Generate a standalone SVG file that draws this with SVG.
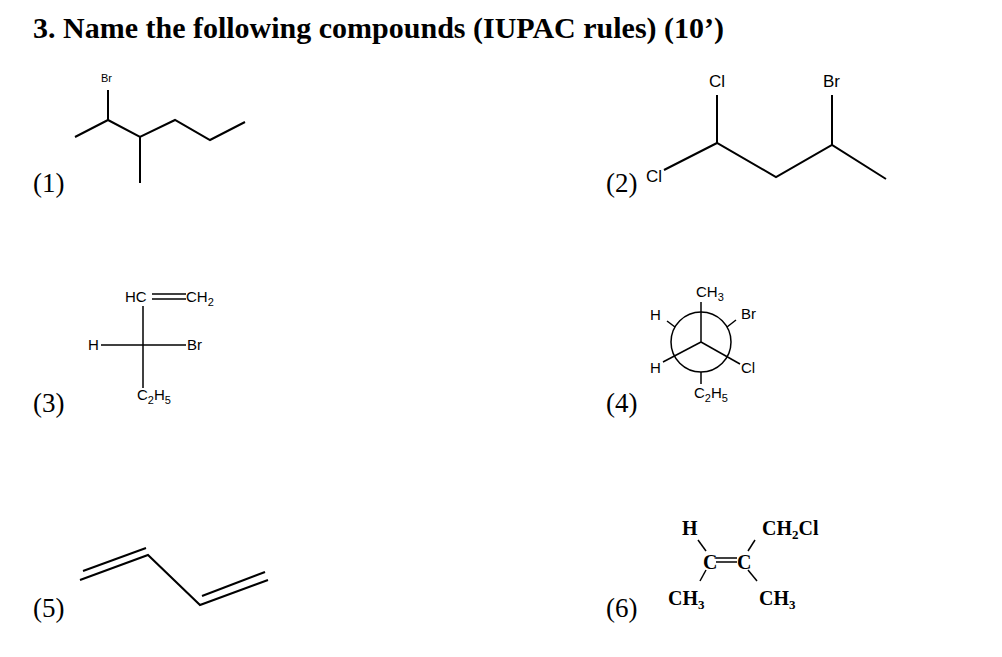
<svg xmlns="http://www.w3.org/2000/svg" width="1002" height="657" viewBox="0 0 1002 657">
<style>
.b{stroke:#000;stroke-width:2;fill:none}
.t{font-family:"Liberation Serif",serif;fill:#000}
.s{font-family:"Liberation Sans",Arial,sans-serif;fill:#000}
</style>
<rect width="1002" height="657" fill="#fff"/>
<text class="t" x="33" y="38" font-size="30" font-weight="bold">3. Name the following compounds (IUPAC rules) (10’)</text>
<g id="c1">
<text class="t" x="33" y="192" font-size="27">(1)</text>
<text class="s" x="101" y="82" font-size="11">Br</text>
<polyline class="b" points="75,137 108,120 140,137 175,120 210,140 245,122"/>
<line class="b" x1="108" y1="120" x2="108" y2="90"/>
<line class="b" x1="140" y1="137" x2="140" y2="183"/>
</g>
<g id="c2">
<text class="t" x="606" y="192" font-size="27">(2)</text>
<text class="s" x="646" y="182" font-size="17">Cl</text>
<text class="s" x="709" y="87" font-size="17">Cl</text>
<text class="s" x="823" y="87" font-size="17">Br</text>
<polyline class="b" points="664,170 717,143 776,177 832,145 886,179"/>
<line class="b" x1="717" y1="143" x2="717" y2="95"/>
<line class="b" x1="832" y1="145" x2="832" y2="95"/>
</g>
<g id="c3">
<text class="t" x="33" y="412" font-size="27">(3)</text>
<text class="s" x="125" y="302" font-size="15">HC</text>
<text class="s" x="186" y="302" font-size="15">CH<tspan font-size="11" dy="4">2</tspan></text>
<line x1="152" y1="294" x2="186" y2="294" stroke="#000" stroke-width="1.3"/>
<line x1="152" y1="299" x2="186" y2="299" stroke="#000" stroke-width="1.3"/>
<text class="s" x="88" y="350" font-size="15">H</text>
<text class="s" x="187" y="350" font-size="15">Br</text>
<line x1="101" y1="345" x2="186" y2="345" stroke="#000" stroke-width="1.5"/>
<line x1="143" y1="306" x2="143" y2="388" stroke="#000" stroke-width="1.5"/>
<text class="s" x="137" y="400" font-size="15">C<tspan font-size="11" dy="4">2</tspan><tspan dy="-4">H</tspan><tspan font-size="11" dy="4">5</tspan></text>
</g>
<g id="c4">
<text class="t" x="606" y="412" font-size="27">(4)</text>
<circle cx="701" cy="342" r="30" fill="none" stroke="#000" stroke-width="1.5"/>
<line x1="701" y1="342" x2="701" y2="302" stroke="#000" stroke-width="1.5"/>
<line x1="701" y1="342" x2="663" y2="362" stroke="#000" stroke-width="1.5"/>
<line x1="701" y1="342" x2="740" y2="364" stroke="#000" stroke-width="1.5"/>
<line x1="675" y1="327" x2="667" y2="321" stroke="#000" stroke-width="1.5"/>
<line x1="727" y1="327" x2="736" y2="320" stroke="#000" stroke-width="1.5"/>
<line x1="701" y1="372" x2="701" y2="384" stroke="#000" stroke-width="1.5"/>
<text class="s" x="696" y="297" font-size="15">CH<tspan font-size="11" dy="4">3</tspan></text>
<text class="s" x="650" y="320" font-size="15">H</text>
<text class="s" x="741" y="319" font-size="15">Br</text>
<text class="s" x="650" y="373" font-size="15">H</text>
<text class="s" x="741" y="373" font-size="15">Cl</text>
<text class="s" x="694" y="398" font-size="15">C<tspan font-size="11" dy="4">2</tspan><tspan dy="-4">H</tspan><tspan font-size="11" dy="4">5</tspan></text>
</g>
<g id="c5">
<text class="t" x="33" y="617" font-size="27">(5)</text>
<polyline class="b" points="80,580 148,555 200,605 268,580"/>
<line class="b" x1="83" y1="571" x2="146" y2="548"/>
<line class="b" x1="202" y1="596" x2="265" y2="572"/>
</g>
<g id="c6">
<text class="t" x="606" y="617" font-size="27">(6)</text>
<text class="t" x="682" y="535" font-size="20" font-weight="bold">H</text>
<text class="t" x="762" y="535" font-size="20" font-weight="bold">CH<tspan font-size="13" dy="4">2</tspan><tspan dy="-4">Cl</tspan></text>
<text class="t" x="703" y="569" font-size="20" font-weight="bold">C</text>
<text class="t" x="737" y="569" font-size="20" font-weight="bold">C</text>
<line x1="716" y1="558" x2="737" y2="558" stroke="#000" stroke-width="1.5"/>
<line x1="716" y1="562" x2="737" y2="562" stroke="#000" stroke-width="1.5"/>
<line x1="698" y1="540" x2="706" y2="551" stroke="#000" stroke-width="1.5"/>
<line x1="755" y1="540" x2="748" y2="551" stroke="#000" stroke-width="1.5"/>
<line x1="706" y1="570" x2="700" y2="581" stroke="#000" stroke-width="1.5"/>
<line x1="748" y1="570" x2="757" y2="581" stroke="#000" stroke-width="1.5"/>
<text class="t" x="668" y="605" font-size="20" font-weight="bold">CH<tspan font-size="13" dy="4">3</tspan></text>
<text class="t" x="759" y="605" font-size="20" font-weight="bold">CH<tspan font-size="13" dy="4">3</tspan></text>
</g>
</svg>
